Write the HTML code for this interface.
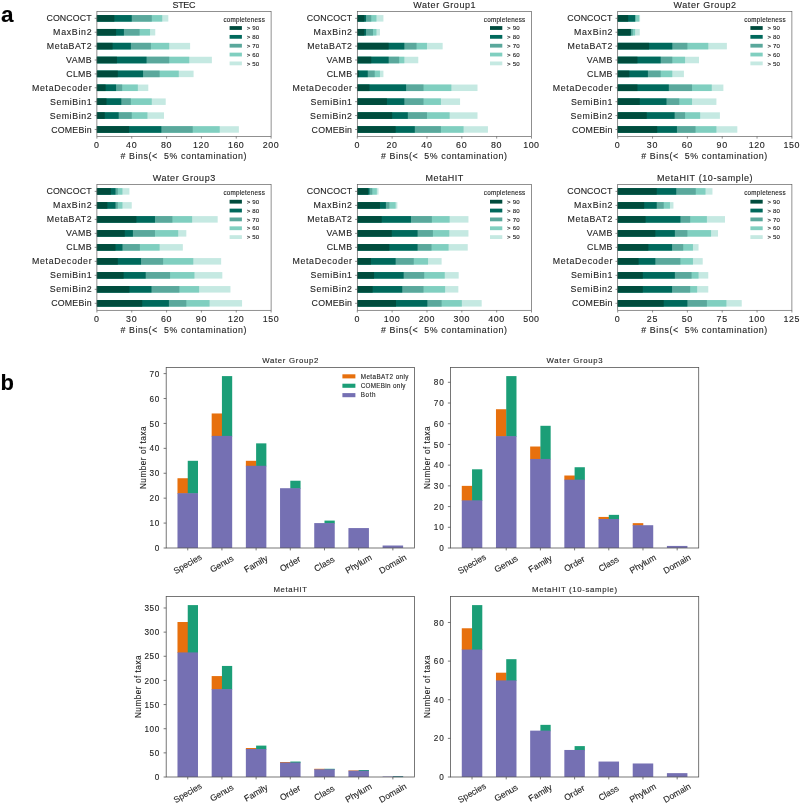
<!DOCTYPE html>
<html><head><meta charset="utf-8"><title>Figure</title>
<style>
html,body{margin:0;padding:0;background:#fff;}
body{width:800px;height:806px;overflow:hidden;}
svg{display:block;}
text{stroke:#1f1f1f;stroke-width:0.12px;}
</style></head><body>
<svg width="800" height="806" viewBox="0 0 800 806">
<rect x="0" y="0" width="800" height="806" fill="#fff"/>
<g font-family='"Liberation Sans", Arial, Helvetica, sans-serif' fill="#1f1f1f">
<text x="1" y="22.3" font-size="22.5" font-weight="bold" fill="#000">a</text>
<rect x="96.9" y="15.09" width="71.42" height="6.5" fill="#c5e9e2"/>
<rect x="96.9" y="15.09" width="65.33" height="6.5" fill="#80cfc0"/>
<rect x="96.9" y="15.09" width="54.87" height="6.5" fill="#5aa89c"/>
<rect x="96.9" y="15.09" width="34.84" height="6.5" fill="#00695c"/>
<rect x="96.9" y="15.09" width="17.42" height="6.5" fill="#004c3d"/>
<line x1="94.7" y1="18.34" x2="96.9" y2="18.34" stroke="#555555" stroke-width="0.65"/>
<text x="91.6" y="21.44" font-size="8.8" text-anchor="end" textLength="45.2" lengthAdjust="spacing">CONCOCT</text>
<rect x="96.9" y="28.98" width="58.36" height="6.5" fill="#c5e9e2"/>
<rect x="96.9" y="28.98" width="53.13" height="6.5" fill="#80cfc0"/>
<rect x="96.9" y="28.98" width="42.68" height="6.5" fill="#5aa89c"/>
<rect x="96.9" y="28.98" width="27" height="6.5" fill="#00695c"/>
<rect x="96.9" y="28.98" width="19.16" height="6.5" fill="#004c3d"/>
<line x1="94.7" y1="32.23" x2="96.9" y2="32.23" stroke="#555555" stroke-width="0.65"/>
<text x="91.6" y="35.33" font-size="8.8" text-anchor="end" textLength="38.5" lengthAdjust="spacing">MaxBin2</text>
<rect x="96.9" y="42.87" width="93.2" height="6.5" fill="#c5e9e2"/>
<rect x="96.9" y="42.87" width="72.29" height="6.5" fill="#80cfc0"/>
<rect x="96.9" y="42.87" width="54" height="6.5" fill="#5aa89c"/>
<rect x="96.9" y="42.87" width="33.97" height="6.5" fill="#00695c"/>
<rect x="96.9" y="42.87" width="15.68" height="6.5" fill="#004c3d"/>
<line x1="94.7" y1="46.12" x2="96.9" y2="46.12" stroke="#555555" stroke-width="0.65"/>
<text x="91.6" y="49.22" font-size="8.8" text-anchor="end" textLength="44.8" lengthAdjust="spacing">MetaBAT2</text>
<rect x="96.9" y="56.76" width="114.97" height="6.5" fill="#c5e9e2"/>
<rect x="96.9" y="56.76" width="92.33" height="6.5" fill="#80cfc0"/>
<rect x="96.9" y="56.76" width="72.29" height="6.5" fill="#5aa89c"/>
<rect x="96.9" y="56.76" width="49.65" height="6.5" fill="#00695c"/>
<rect x="96.9" y="56.76" width="20.03" height="6.5" fill="#004c3d"/>
<line x1="94.7" y1="60.01" x2="96.9" y2="60.01" stroke="#555555" stroke-width="0.65"/>
<text x="91.6" y="63.11" font-size="8.8" text-anchor="end" textLength="25.6" lengthAdjust="spacing">VAMB</text>
<rect x="96.9" y="70.65" width="96.68" height="6.5" fill="#c5e9e2"/>
<rect x="96.9" y="70.65" width="81.87" height="6.5" fill="#80cfc0"/>
<rect x="96.9" y="70.65" width="62.71" height="6.5" fill="#5aa89c"/>
<rect x="96.9" y="70.65" width="46.16" height="6.5" fill="#00695c"/>
<rect x="96.9" y="70.65" width="20.9" height="6.5" fill="#004c3d"/>
<line x1="94.7" y1="73.9" x2="96.9" y2="73.9" stroke="#555555" stroke-width="0.65"/>
<text x="91.6" y="77" font-size="8.8" text-anchor="end" textLength="25.3" lengthAdjust="spacing">CLMB</text>
<rect x="96.9" y="84.54" width="51.39" height="6.5" fill="#c5e9e2"/>
<rect x="96.9" y="84.54" width="40.94" height="6.5" fill="#80cfc0"/>
<rect x="96.9" y="84.54" width="25.26" height="6.5" fill="#5aa89c"/>
<rect x="96.9" y="84.54" width="19.16" height="6.5" fill="#00695c"/>
<rect x="96.9" y="84.54" width="8.71" height="6.5" fill="#004c3d"/>
<line x1="94.7" y1="87.79" x2="96.9" y2="87.79" stroke="#555555" stroke-width="0.65"/>
<text x="91.6" y="90.89" font-size="8.8" text-anchor="end" textLength="59.6" lengthAdjust="spacing">MetaDecoder</text>
<rect x="96.9" y="98.43" width="68.81" height="6.5" fill="#c5e9e2"/>
<rect x="96.9" y="98.43" width="54.87" height="6.5" fill="#80cfc0"/>
<rect x="96.9" y="98.43" width="33.97" height="6.5" fill="#5aa89c"/>
<rect x="96.9" y="98.43" width="24.39" height="6.5" fill="#00695c"/>
<rect x="96.9" y="98.43" width="9.58" height="6.5" fill="#004c3d"/>
<line x1="94.7" y1="101.68" x2="96.9" y2="101.68" stroke="#555555" stroke-width="0.65"/>
<text x="91.6" y="104.78" font-size="8.8" text-anchor="end" textLength="41.5" lengthAdjust="spacing">SemiBin1</text>
<rect x="96.9" y="112.32" width="67.07" height="6.5" fill="#c5e9e2"/>
<rect x="96.9" y="112.32" width="50.52" height="6.5" fill="#80cfc0"/>
<rect x="96.9" y="112.32" width="34.84" height="6.5" fill="#5aa89c"/>
<rect x="96.9" y="112.32" width="21.77" height="6.5" fill="#00695c"/>
<rect x="96.9" y="112.32" width="7.84" height="6.5" fill="#004c3d"/>
<line x1="94.7" y1="115.57" x2="96.9" y2="115.57" stroke="#555555" stroke-width="0.65"/>
<text x="91.6" y="118.67" font-size="8.8" text-anchor="end" textLength="41.9" lengthAdjust="spacing">SemiBin2</text>
<rect x="96.9" y="126.21" width="141.97" height="6.5" fill="#c5e9e2"/>
<rect x="96.9" y="126.21" width="122.81" height="6.5" fill="#80cfc0"/>
<rect x="96.9" y="126.21" width="95.81" height="6.5" fill="#5aa89c"/>
<rect x="96.9" y="126.21" width="64.45" height="6.5" fill="#00695c"/>
<rect x="96.9" y="126.21" width="32.23" height="6.5" fill="#004c3d"/>
<line x1="94.7" y1="129.46" x2="96.9" y2="129.46" stroke="#555555" stroke-width="0.65"/>
<text x="91.6" y="132.56" font-size="8.8" text-anchor="end" textLength="40.4" lengthAdjust="spacing">COMEBin</text>
<rect x="96.9" y="11.4" width="174.2" height="125" fill="none" stroke="#555555" stroke-width="0.65"/>
<line x1="96.9" y1="136.4" x2="96.9" y2="138.6" stroke="#555555" stroke-width="0.65"/>
<text x="96.5" y="147.6" font-size="8.9" text-anchor="middle" textLength="5.3" lengthAdjust="spacing">0</text>
<line x1="131.74" y1="136.4" x2="131.74" y2="138.6" stroke="#555555" stroke-width="0.65"/>
<text x="131.34" y="147.6" font-size="8.9" text-anchor="middle" textLength="10.6" lengthAdjust="spacing">40</text>
<line x1="166.58" y1="136.4" x2="166.58" y2="138.6" stroke="#555555" stroke-width="0.65"/>
<text x="166.18" y="147.6" font-size="8.9" text-anchor="middle" textLength="10.6" lengthAdjust="spacing">80</text>
<line x1="201.42" y1="136.4" x2="201.42" y2="138.6" stroke="#555555" stroke-width="0.65"/>
<text x="201.02" y="147.6" font-size="8.9" text-anchor="middle" textLength="15.9" lengthAdjust="spacing">120</text>
<line x1="236.26" y1="136.4" x2="236.26" y2="138.6" stroke="#555555" stroke-width="0.65"/>
<text x="235.86" y="147.6" font-size="8.9" text-anchor="middle" textLength="15.9" lengthAdjust="spacing">160</text>
<line x1="271.1" y1="136.4" x2="271.1" y2="138.6" stroke="#555555" stroke-width="0.65"/>
<text x="270.7" y="147.6" font-size="8.9" text-anchor="middle" textLength="15.9" lengthAdjust="spacing">200</text>
<text x="183.5" y="159.3" font-size="8.8" text-anchor="middle" textLength="126" lengthAdjust="spacing" xml:space="preserve"># Bins(&lt;  5% contamination)</text>
<text x="184" y="8" font-size="9" text-anchor="middle" textLength="23.2" lengthAdjust="spacing">STEC</text>
<text x="264.8" y="21.5" font-size="6.3" text-anchor="end" textLength="41.4" lengthAdjust="spacing">completeness</text>
<rect x="229.6" y="26.1" width="12.3" height="3.8" fill="#004c3d"/>
<text x="246.7" y="30.1" font-size="6.1" textLength="12.5" lengthAdjust="spacing" xml:space="preserve">> 90</text>
<rect x="229.6" y="34.95" width="12.3" height="3.8" fill="#00695c"/>
<text x="246.7" y="38.95" font-size="6.1" textLength="12.5" lengthAdjust="spacing" xml:space="preserve">> 80</text>
<rect x="229.6" y="43.8" width="12.3" height="3.8" fill="#5aa89c"/>
<text x="246.7" y="47.8" font-size="6.1" textLength="12.5" lengthAdjust="spacing" xml:space="preserve">> 70</text>
<rect x="229.6" y="52.65" width="12.3" height="3.8" fill="#80cfc0"/>
<text x="246.7" y="56.65" font-size="6.1" textLength="12.5" lengthAdjust="spacing" xml:space="preserve">> 60</text>
<rect x="229.6" y="61.5" width="12.3" height="3.8" fill="#c5e9e2"/>
<text x="246.7" y="65.5" font-size="6.1" textLength="12.5" lengthAdjust="spacing" xml:space="preserve">> 50</text>
<rect x="357.3" y="15.09" width="26.13" height="6.5" fill="#c5e9e2"/>
<rect x="357.3" y="15.09" width="19.16" height="6.5" fill="#80cfc0"/>
<rect x="357.3" y="15.09" width="13.94" height="6.5" fill="#5aa89c"/>
<rect x="357.3" y="15.09" width="8.71" height="6.5" fill="#00695c"/>
<rect x="357.3" y="15.09" width="6.97" height="6.5" fill="#004c3d"/>
<line x1="355.1" y1="18.34" x2="357.3" y2="18.34" stroke="#555555" stroke-width="0.65"/>
<text x="352" y="21.44" font-size="8.8" text-anchor="end" textLength="45.2" lengthAdjust="spacing">CONCOCT</text>
<rect x="357.3" y="28.98" width="22.65" height="6.5" fill="#c5e9e2"/>
<rect x="357.3" y="28.98" width="19.16" height="6.5" fill="#80cfc0"/>
<rect x="357.3" y="28.98" width="15.68" height="6.5" fill="#5aa89c"/>
<rect x="357.3" y="28.98" width="8.71" height="6.5" fill="#00695c"/>
<rect x="357.3" y="28.98" width="6.97" height="6.5" fill="#004c3d"/>
<line x1="355.1" y1="32.23" x2="357.3" y2="32.23" stroke="#555555" stroke-width="0.65"/>
<text x="352" y="35.33" font-size="8.8" text-anchor="end" textLength="38.5" lengthAdjust="spacing">MaxBin2</text>
<rect x="357.3" y="42.87" width="85.36" height="6.5" fill="#c5e9e2"/>
<rect x="357.3" y="42.87" width="69.68" height="6.5" fill="#80cfc0"/>
<rect x="357.3" y="42.87" width="59.23" height="6.5" fill="#5aa89c"/>
<rect x="357.3" y="42.87" width="47.03" height="6.5" fill="#00695c"/>
<rect x="357.3" y="42.87" width="31.36" height="6.5" fill="#004c3d"/>
<line x1="355.1" y1="46.12" x2="357.3" y2="46.12" stroke="#555555" stroke-width="0.65"/>
<text x="352" y="49.22" font-size="8.8" text-anchor="end" textLength="44.8" lengthAdjust="spacing">MetaBAT2</text>
<rect x="357.3" y="56.76" width="60.97" height="6.5" fill="#c5e9e2"/>
<rect x="357.3" y="56.76" width="47.03" height="6.5" fill="#80cfc0"/>
<rect x="357.3" y="56.76" width="41.81" height="6.5" fill="#5aa89c"/>
<rect x="357.3" y="56.76" width="31.36" height="6.5" fill="#00695c"/>
<rect x="357.3" y="56.76" width="13.94" height="6.5" fill="#004c3d"/>
<line x1="355.1" y1="60.01" x2="357.3" y2="60.01" stroke="#555555" stroke-width="0.65"/>
<text x="352" y="63.11" font-size="8.8" text-anchor="end" textLength="25.6" lengthAdjust="spacing">VAMB</text>
<rect x="357.3" y="70.65" width="26.13" height="6.5" fill="#c5e9e2"/>
<rect x="357.3" y="70.65" width="22.65" height="6.5" fill="#80cfc0"/>
<rect x="357.3" y="70.65" width="17.42" height="6.5" fill="#5aa89c"/>
<rect x="357.3" y="70.65" width="10.45" height="6.5" fill="#00695c"/>
<rect x="357.3" y="70.65" width="1.74" height="6.5" fill="#004c3d"/>
<line x1="355.1" y1="73.9" x2="357.3" y2="73.9" stroke="#555555" stroke-width="0.65"/>
<text x="352" y="77" font-size="8.8" text-anchor="end" textLength="25.3" lengthAdjust="spacing">CLMB</text>
<rect x="357.3" y="84.54" width="120.2" height="6.5" fill="#c5e9e2"/>
<rect x="357.3" y="84.54" width="94.07" height="6.5" fill="#80cfc0"/>
<rect x="357.3" y="84.54" width="66.2" height="6.5" fill="#5aa89c"/>
<rect x="357.3" y="84.54" width="48.78" height="6.5" fill="#00695c"/>
<rect x="357.3" y="84.54" width="12.19" height="6.5" fill="#004c3d"/>
<line x1="355.1" y1="87.79" x2="357.3" y2="87.79" stroke="#555555" stroke-width="0.65"/>
<text x="352" y="90.89" font-size="8.8" text-anchor="end" textLength="59.6" lengthAdjust="spacing">MetaDecoder</text>
<rect x="357.3" y="98.43" width="102.78" height="6.5" fill="#c5e9e2"/>
<rect x="357.3" y="98.43" width="83.62" height="6.5" fill="#80cfc0"/>
<rect x="357.3" y="98.43" width="66.2" height="6.5" fill="#5aa89c"/>
<rect x="357.3" y="98.43" width="47.03" height="6.5" fill="#00695c"/>
<rect x="357.3" y="98.43" width="29.61" height="6.5" fill="#004c3d"/>
<line x1="355.1" y1="101.68" x2="357.3" y2="101.68" stroke="#555555" stroke-width="0.65"/>
<text x="352" y="104.78" font-size="8.8" text-anchor="end" textLength="41.5" lengthAdjust="spacing">SemiBin1</text>
<rect x="357.3" y="112.32" width="120.2" height="6.5" fill="#c5e9e2"/>
<rect x="357.3" y="112.32" width="92.33" height="6.5" fill="#80cfc0"/>
<rect x="357.3" y="112.32" width="69.68" height="6.5" fill="#5aa89c"/>
<rect x="357.3" y="112.32" width="50.52" height="6.5" fill="#00695c"/>
<rect x="357.3" y="112.32" width="34.84" height="6.5" fill="#004c3d"/>
<line x1="355.1" y1="115.57" x2="357.3" y2="115.57" stroke="#555555" stroke-width="0.65"/>
<text x="352" y="118.67" font-size="8.8" text-anchor="end" textLength="41.9" lengthAdjust="spacing">SemiBin2</text>
<rect x="357.3" y="126.21" width="130.65" height="6.5" fill="#c5e9e2"/>
<rect x="357.3" y="126.21" width="106.26" height="6.5" fill="#80cfc0"/>
<rect x="357.3" y="126.21" width="83.62" height="6.5" fill="#5aa89c"/>
<rect x="357.3" y="126.21" width="57.49" height="6.5" fill="#00695c"/>
<rect x="357.3" y="126.21" width="38.32" height="6.5" fill="#004c3d"/>
<line x1="355.1" y1="129.46" x2="357.3" y2="129.46" stroke="#555555" stroke-width="0.65"/>
<text x="352" y="132.56" font-size="8.8" text-anchor="end" textLength="40.4" lengthAdjust="spacing">COMEBin</text>
<rect x="357.3" y="11.4" width="174.2" height="125" fill="none" stroke="#555555" stroke-width="0.65"/>
<line x1="357.3" y1="136.4" x2="357.3" y2="138.6" stroke="#555555" stroke-width="0.65"/>
<text x="356.9" y="147.6" font-size="8.9" text-anchor="middle" textLength="5.3" lengthAdjust="spacing">0</text>
<line x1="392.14" y1="136.4" x2="392.14" y2="138.6" stroke="#555555" stroke-width="0.65"/>
<text x="391.74" y="147.6" font-size="8.9" text-anchor="middle" textLength="10.6" lengthAdjust="spacing">20</text>
<line x1="426.98" y1="136.4" x2="426.98" y2="138.6" stroke="#555555" stroke-width="0.65"/>
<text x="426.58" y="147.6" font-size="8.9" text-anchor="middle" textLength="10.6" lengthAdjust="spacing">40</text>
<line x1="461.82" y1="136.4" x2="461.82" y2="138.6" stroke="#555555" stroke-width="0.65"/>
<text x="461.42" y="147.6" font-size="8.9" text-anchor="middle" textLength="10.6" lengthAdjust="spacing">60</text>
<line x1="496.66" y1="136.4" x2="496.66" y2="138.6" stroke="#555555" stroke-width="0.65"/>
<text x="496.26" y="147.6" font-size="8.9" text-anchor="middle" textLength="10.6" lengthAdjust="spacing">80</text>
<line x1="531.5" y1="136.4" x2="531.5" y2="138.6" stroke="#555555" stroke-width="0.65"/>
<text x="531.1" y="147.6" font-size="8.9" text-anchor="middle" textLength="15.9" lengthAdjust="spacing">100</text>
<text x="443.9" y="159.3" font-size="8.8" text-anchor="middle" textLength="126" lengthAdjust="spacing" xml:space="preserve"># Bins(&lt;  5% contamination)</text>
<text x="444.4" y="8" font-size="9" text-anchor="middle" textLength="62.3" lengthAdjust="spacing">Water Group1</text>
<text x="525.2" y="21.5" font-size="6.3" text-anchor="end" textLength="41.4" lengthAdjust="spacing">completeness</text>
<rect x="490" y="26.1" width="12.3" height="3.8" fill="#004c3d"/>
<text x="507.1" y="30.1" font-size="6.1" textLength="12.5" lengthAdjust="spacing" xml:space="preserve">> 90</text>
<rect x="490" y="34.95" width="12.3" height="3.8" fill="#00695c"/>
<text x="507.1" y="38.95" font-size="6.1" textLength="12.5" lengthAdjust="spacing" xml:space="preserve">> 80</text>
<rect x="490" y="43.8" width="12.3" height="3.8" fill="#5aa89c"/>
<text x="507.1" y="47.8" font-size="6.1" textLength="12.5" lengthAdjust="spacing" xml:space="preserve">> 70</text>
<rect x="490" y="52.65" width="12.3" height="3.8" fill="#80cfc0"/>
<text x="507.1" y="56.65" font-size="6.1" textLength="12.5" lengthAdjust="spacing" xml:space="preserve">> 60</text>
<rect x="490" y="61.5" width="12.3" height="3.8" fill="#c5e9e2"/>
<text x="507.1" y="65.5" font-size="6.1" textLength="12.5" lengthAdjust="spacing" xml:space="preserve">> 50</text>
<rect x="617.7" y="15.09" width="22.41" height="6.5" fill="#c5e9e2"/>
<rect x="617.7" y="15.09" width="21.48" height="6.5" fill="#80cfc0"/>
<rect x="617.7" y="15.09" width="17.77" height="6.5" fill="#5aa89c"/>
<rect x="617.7" y="15.09" width="17.42" height="6.5" fill="#00695c"/>
<rect x="617.7" y="15.09" width="10.45" height="6.5" fill="#004c3d"/>
<line x1="615.5" y1="18.34" x2="617.7" y2="18.34" stroke="#555555" stroke-width="0.65"/>
<text x="612.4" y="21.44" font-size="8.8" text-anchor="end" textLength="45.2" lengthAdjust="spacing">CONCOCT</text>
<rect x="617.7" y="28.98" width="22.07" height="6.5" fill="#c5e9e2"/>
<rect x="617.7" y="28.98" width="17.42" height="6.5" fill="#80cfc0"/>
<rect x="617.7" y="28.98" width="15.1" height="6.5" fill="#5aa89c"/>
<rect x="617.7" y="28.98" width="13.36" height="6.5" fill="#00695c"/>
<rect x="617.7" y="28.98" width="12.77" height="6.5" fill="#004c3d"/>
<line x1="615.5" y1="32.23" x2="617.7" y2="32.23" stroke="#555555" stroke-width="0.65"/>
<text x="612.4" y="35.33" font-size="8.8" text-anchor="end" textLength="38.5" lengthAdjust="spacing">MaxBin2</text>
<rect x="617.7" y="42.87" width="109.17" height="6.5" fill="#c5e9e2"/>
<rect x="617.7" y="42.87" width="90.58" height="6.5" fill="#80cfc0"/>
<rect x="617.7" y="42.87" width="69.68" height="6.5" fill="#5aa89c"/>
<rect x="617.7" y="42.87" width="54.58" height="6.5" fill="#00695c"/>
<rect x="617.7" y="42.87" width="31.36" height="6.5" fill="#004c3d"/>
<line x1="615.5" y1="46.12" x2="617.7" y2="46.12" stroke="#555555" stroke-width="0.65"/>
<text x="612.4" y="49.22" font-size="8.8" text-anchor="end" textLength="44.8" lengthAdjust="spacing">MetaBAT2</text>
<rect x="617.7" y="56.76" width="81.29" height="6.5" fill="#c5e9e2"/>
<rect x="617.7" y="56.76" width="67.36" height="6.5" fill="#80cfc0"/>
<rect x="617.7" y="56.76" width="54.58" height="6.5" fill="#5aa89c"/>
<rect x="617.7" y="56.76" width="42.97" height="6.5" fill="#00695c"/>
<rect x="617.7" y="56.76" width="19.74" height="6.5" fill="#004c3d"/>
<line x1="615.5" y1="60.01" x2="617.7" y2="60.01" stroke="#555555" stroke-width="0.65"/>
<text x="612.4" y="63.11" font-size="8.8" text-anchor="end" textLength="25.6" lengthAdjust="spacing">VAMB</text>
<rect x="617.7" y="70.65" width="66.2" height="6.5" fill="#c5e9e2"/>
<rect x="617.7" y="70.65" width="54.58" height="6.5" fill="#80cfc0"/>
<rect x="617.7" y="70.65" width="42.97" height="6.5" fill="#5aa89c"/>
<rect x="617.7" y="70.65" width="30.19" height="6.5" fill="#00695c"/>
<rect x="617.7" y="70.65" width="11.61" height="6.5" fill="#004c3d"/>
<line x1="615.5" y1="73.9" x2="617.7" y2="73.9" stroke="#555555" stroke-width="0.65"/>
<text x="612.4" y="77" font-size="8.8" text-anchor="end" textLength="25.3" lengthAdjust="spacing">CLMB</text>
<rect x="617.7" y="84.54" width="105.68" height="6.5" fill="#c5e9e2"/>
<rect x="617.7" y="84.54" width="94.07" height="6.5" fill="#80cfc0"/>
<rect x="617.7" y="84.54" width="74.33" height="6.5" fill="#5aa89c"/>
<rect x="617.7" y="84.54" width="51.1" height="6.5" fill="#00695c"/>
<rect x="617.7" y="84.54" width="19.74" height="6.5" fill="#004c3d"/>
<line x1="615.5" y1="87.79" x2="617.7" y2="87.79" stroke="#555555" stroke-width="0.65"/>
<text x="612.4" y="90.89" font-size="8.8" text-anchor="end" textLength="59.6" lengthAdjust="spacing">MetaDecoder</text>
<rect x="617.7" y="98.43" width="98.71" height="6.5" fill="#c5e9e2"/>
<rect x="617.7" y="98.43" width="74.33" height="6.5" fill="#80cfc0"/>
<rect x="617.7" y="98.43" width="61.55" height="6.5" fill="#5aa89c"/>
<rect x="617.7" y="98.43" width="48.78" height="6.5" fill="#00695c"/>
<rect x="617.7" y="98.43" width="22.07" height="6.5" fill="#004c3d"/>
<line x1="615.5" y1="101.68" x2="617.7" y2="101.68" stroke="#555555" stroke-width="0.65"/>
<text x="612.4" y="104.78" font-size="8.8" text-anchor="end" textLength="41.5" lengthAdjust="spacing">SemiBin1</text>
<rect x="617.7" y="112.32" width="102.2" height="6.5" fill="#c5e9e2"/>
<rect x="617.7" y="112.32" width="82.45" height="6.5" fill="#80cfc0"/>
<rect x="617.7" y="112.32" width="67.36" height="6.5" fill="#5aa89c"/>
<rect x="617.7" y="112.32" width="56.91" height="6.5" fill="#00695c"/>
<rect x="617.7" y="112.32" width="29.03" height="6.5" fill="#004c3d"/>
<line x1="615.5" y1="115.57" x2="617.7" y2="115.57" stroke="#555555" stroke-width="0.65"/>
<text x="612.4" y="118.67" font-size="8.8" text-anchor="end" textLength="41.9" lengthAdjust="spacing">SemiBin2</text>
<rect x="617.7" y="126.21" width="119.62" height="6.5" fill="#c5e9e2"/>
<rect x="617.7" y="126.21" width="98.71" height="6.5" fill="#80cfc0"/>
<rect x="617.7" y="126.21" width="77.81" height="6.5" fill="#5aa89c"/>
<rect x="617.7" y="126.21" width="59.23" height="6.5" fill="#00695c"/>
<rect x="617.7" y="126.21" width="39.49" height="6.5" fill="#004c3d"/>
<line x1="615.5" y1="129.46" x2="617.7" y2="129.46" stroke="#555555" stroke-width="0.65"/>
<text x="612.4" y="132.56" font-size="8.8" text-anchor="end" textLength="40.4" lengthAdjust="spacing">COMEBin</text>
<rect x="617.7" y="11.4" width="174.2" height="125" fill="none" stroke="#555555" stroke-width="0.65"/>
<line x1="617.7" y1="136.4" x2="617.7" y2="138.6" stroke="#555555" stroke-width="0.65"/>
<text x="617.3" y="147.6" font-size="8.9" text-anchor="middle" textLength="5.3" lengthAdjust="spacing">0</text>
<line x1="652.54" y1="136.4" x2="652.54" y2="138.6" stroke="#555555" stroke-width="0.65"/>
<text x="652.14" y="147.6" font-size="8.9" text-anchor="middle" textLength="10.6" lengthAdjust="spacing">30</text>
<line x1="687.38" y1="136.4" x2="687.38" y2="138.6" stroke="#555555" stroke-width="0.65"/>
<text x="686.98" y="147.6" font-size="8.9" text-anchor="middle" textLength="10.6" lengthAdjust="spacing">60</text>
<line x1="722.22" y1="136.4" x2="722.22" y2="138.6" stroke="#555555" stroke-width="0.65"/>
<text x="721.82" y="147.6" font-size="8.9" text-anchor="middle" textLength="10.6" lengthAdjust="spacing">90</text>
<line x1="757.06" y1="136.4" x2="757.06" y2="138.6" stroke="#555555" stroke-width="0.65"/>
<text x="756.66" y="147.6" font-size="8.9" text-anchor="middle" textLength="15.9" lengthAdjust="spacing">120</text>
<line x1="791.9" y1="136.4" x2="791.9" y2="138.6" stroke="#555555" stroke-width="0.65"/>
<text x="791.5" y="147.6" font-size="8.9" text-anchor="middle" textLength="15.9" lengthAdjust="spacing">150</text>
<text x="704.3" y="159.3" font-size="8.8" text-anchor="middle" textLength="126" lengthAdjust="spacing" xml:space="preserve"># Bins(&lt;  5% contamination)</text>
<text x="704.8" y="8" font-size="9" text-anchor="middle" textLength="62.6" lengthAdjust="spacing">Water Group2</text>
<text x="785.6" y="21.5" font-size="6.3" text-anchor="end" textLength="41.4" lengthAdjust="spacing">completeness</text>
<rect x="750.4" y="26.1" width="12.3" height="3.8" fill="#004c3d"/>
<text x="767.5" y="30.1" font-size="6.1" textLength="12.5" lengthAdjust="spacing" xml:space="preserve">> 90</text>
<rect x="750.4" y="34.95" width="12.3" height="3.8" fill="#00695c"/>
<text x="767.5" y="38.95" font-size="6.1" textLength="12.5" lengthAdjust="spacing" xml:space="preserve">> 80</text>
<rect x="750.4" y="43.8" width="12.3" height="3.8" fill="#5aa89c"/>
<text x="767.5" y="47.8" font-size="6.1" textLength="12.5" lengthAdjust="spacing" xml:space="preserve">> 70</text>
<rect x="750.4" y="52.65" width="12.3" height="3.8" fill="#80cfc0"/>
<text x="767.5" y="56.65" font-size="6.1" textLength="12.5" lengthAdjust="spacing" xml:space="preserve">> 60</text>
<rect x="750.4" y="61.5" width="12.3" height="3.8" fill="#c5e9e2"/>
<text x="767.5" y="65.5" font-size="6.1" textLength="12.5" lengthAdjust="spacing" xml:space="preserve">> 50</text>
<rect x="96.9" y="188.14" width="32.52" height="6.5" fill="#c5e9e2"/>
<rect x="96.9" y="188.14" width="25.55" height="6.5" fill="#80cfc0"/>
<rect x="96.9" y="188.14" width="20.9" height="6.5" fill="#5aa89c"/>
<rect x="96.9" y="188.14" width="18.58" height="6.5" fill="#00695c"/>
<rect x="96.9" y="188.14" width="13.94" height="6.5" fill="#004c3d"/>
<line x1="94.7" y1="191.39" x2="96.9" y2="191.39" stroke="#555555" stroke-width="0.65"/>
<text x="91.6" y="194.49" font-size="8.8" text-anchor="end" textLength="45.2" lengthAdjust="spacing">CONCOCT</text>
<rect x="96.9" y="202.13" width="34.84" height="6.5" fill="#c5e9e2"/>
<rect x="96.9" y="202.13" width="25.55" height="6.5" fill="#80cfc0"/>
<rect x="96.9" y="202.13" width="20.9" height="6.5" fill="#5aa89c"/>
<rect x="96.9" y="202.13" width="18.58" height="6.5" fill="#00695c"/>
<rect x="96.9" y="202.13" width="10.45" height="6.5" fill="#004c3d"/>
<line x1="94.7" y1="205.38" x2="96.9" y2="205.38" stroke="#555555" stroke-width="0.65"/>
<text x="91.6" y="208.48" font-size="8.8" text-anchor="end" textLength="38.5" lengthAdjust="spacing">MaxBin2</text>
<rect x="96.9" y="216.12" width="120.78" height="6.5" fill="#c5e9e2"/>
<rect x="96.9" y="216.12" width="95.23" height="6.5" fill="#80cfc0"/>
<rect x="96.9" y="216.12" width="75.49" height="6.5" fill="#5aa89c"/>
<rect x="96.9" y="216.12" width="58.07" height="6.5" fill="#00695c"/>
<rect x="96.9" y="216.12" width="39.49" height="6.5" fill="#004c3d"/>
<line x1="94.7" y1="219.37" x2="96.9" y2="219.37" stroke="#555555" stroke-width="0.65"/>
<text x="91.6" y="222.47" font-size="8.8" text-anchor="end" textLength="44.8" lengthAdjust="spacing">MetaBAT2</text>
<rect x="96.9" y="230.11" width="89.42" height="6.5" fill="#c5e9e2"/>
<rect x="96.9" y="230.11" width="81.29" height="6.5" fill="#80cfc0"/>
<rect x="96.9" y="230.11" width="58.07" height="6.5" fill="#5aa89c"/>
<rect x="96.9" y="230.11" width="36" height="6.5" fill="#00695c"/>
<rect x="96.9" y="230.11" width="27.87" height="6.5" fill="#004c3d"/>
<line x1="94.7" y1="233.36" x2="96.9" y2="233.36" stroke="#555555" stroke-width="0.65"/>
<text x="91.6" y="236.46" font-size="8.8" text-anchor="end" textLength="25.6" lengthAdjust="spacing">VAMB</text>
<rect x="96.9" y="244.1" width="85.94" height="6.5" fill="#c5e9e2"/>
<rect x="96.9" y="244.1" width="62.71" height="6.5" fill="#80cfc0"/>
<rect x="96.9" y="244.1" width="42.97" height="6.5" fill="#5aa89c"/>
<rect x="96.9" y="244.1" width="25.55" height="6.5" fill="#00695c"/>
<rect x="96.9" y="244.1" width="18.58" height="6.5" fill="#004c3d"/>
<line x1="94.7" y1="247.35" x2="96.9" y2="247.35" stroke="#555555" stroke-width="0.65"/>
<text x="91.6" y="250.45" font-size="8.8" text-anchor="end" textLength="25.3" lengthAdjust="spacing">CLMB</text>
<rect x="96.9" y="258.09" width="124.26" height="6.5" fill="#c5e9e2"/>
<rect x="96.9" y="258.09" width="96.39" height="6.5" fill="#80cfc0"/>
<rect x="96.9" y="258.09" width="66.2" height="6.5" fill="#5aa89c"/>
<rect x="96.9" y="258.09" width="44.13" height="6.5" fill="#00695c"/>
<rect x="96.9" y="258.09" width="20.9" height="6.5" fill="#004c3d"/>
<line x1="94.7" y1="261.34" x2="96.9" y2="261.34" stroke="#555555" stroke-width="0.65"/>
<text x="91.6" y="264.44" font-size="8.8" text-anchor="end" textLength="59.6" lengthAdjust="spacing">MetaDecoder</text>
<rect x="96.9" y="272.08" width="125.42" height="6.5" fill="#c5e9e2"/>
<rect x="96.9" y="272.08" width="97.55" height="6.5" fill="#80cfc0"/>
<rect x="96.9" y="272.08" width="73.16" height="6.5" fill="#5aa89c"/>
<rect x="96.9" y="272.08" width="48.78" height="6.5" fill="#00695c"/>
<rect x="96.9" y="272.08" width="26.71" height="6.5" fill="#004c3d"/>
<line x1="94.7" y1="275.33" x2="96.9" y2="275.33" stroke="#555555" stroke-width="0.65"/>
<text x="91.6" y="278.43" font-size="8.8" text-anchor="end" textLength="41.5" lengthAdjust="spacing">SemiBin1</text>
<rect x="96.9" y="286.07" width="133.55" height="6.5" fill="#c5e9e2"/>
<rect x="96.9" y="286.07" width="102.2" height="6.5" fill="#80cfc0"/>
<rect x="96.9" y="286.07" width="82.45" height="6.5" fill="#5aa89c"/>
<rect x="96.9" y="286.07" width="54.58" height="6.5" fill="#00695c"/>
<rect x="96.9" y="286.07" width="32.52" height="6.5" fill="#004c3d"/>
<line x1="94.7" y1="289.32" x2="96.9" y2="289.32" stroke="#555555" stroke-width="0.65"/>
<text x="91.6" y="292.42" font-size="8.8" text-anchor="end" textLength="41.9" lengthAdjust="spacing">SemiBin2</text>
<rect x="96.9" y="300.06" width="145.17" height="6.5" fill="#c5e9e2"/>
<rect x="96.9" y="300.06" width="112.65" height="6.5" fill="#80cfc0"/>
<rect x="96.9" y="300.06" width="89.42" height="6.5" fill="#5aa89c"/>
<rect x="96.9" y="300.06" width="72" height="6.5" fill="#00695c"/>
<rect x="96.9" y="300.06" width="45.29" height="6.5" fill="#004c3d"/>
<line x1="94.7" y1="303.31" x2="96.9" y2="303.31" stroke="#555555" stroke-width="0.65"/>
<text x="91.6" y="306.41" font-size="8.8" text-anchor="end" textLength="40.4" lengthAdjust="spacing">COMEBin</text>
<rect x="96.9" y="184.4" width="174.2" height="125.9" fill="none" stroke="#555555" stroke-width="0.65"/>
<line x1="96.9" y1="310.3" x2="96.9" y2="312.5" stroke="#555555" stroke-width="0.65"/>
<text x="96.5" y="321.5" font-size="8.9" text-anchor="middle" textLength="5.3" lengthAdjust="spacing">0</text>
<line x1="131.74" y1="310.3" x2="131.74" y2="312.5" stroke="#555555" stroke-width="0.65"/>
<text x="131.34" y="321.5" font-size="8.9" text-anchor="middle" textLength="10.6" lengthAdjust="spacing">30</text>
<line x1="166.58" y1="310.3" x2="166.58" y2="312.5" stroke="#555555" stroke-width="0.65"/>
<text x="166.18" y="321.5" font-size="8.9" text-anchor="middle" textLength="10.6" lengthAdjust="spacing">60</text>
<line x1="201.42" y1="310.3" x2="201.42" y2="312.5" stroke="#555555" stroke-width="0.65"/>
<text x="201.02" y="321.5" font-size="8.9" text-anchor="middle" textLength="10.6" lengthAdjust="spacing">90</text>
<line x1="236.26" y1="310.3" x2="236.26" y2="312.5" stroke="#555555" stroke-width="0.65"/>
<text x="235.86" y="321.5" font-size="8.9" text-anchor="middle" textLength="15.9" lengthAdjust="spacing">120</text>
<line x1="271.1" y1="310.3" x2="271.1" y2="312.5" stroke="#555555" stroke-width="0.65"/>
<text x="270.7" y="321.5" font-size="8.9" text-anchor="middle" textLength="15.9" lengthAdjust="spacing">150</text>
<text x="183.5" y="333.2" font-size="8.8" text-anchor="middle" textLength="126" lengthAdjust="spacing" xml:space="preserve"># Bins(&lt;  5% contamination)</text>
<text x="184" y="181" font-size="9" text-anchor="middle" textLength="62.6" lengthAdjust="spacing">Water Group3</text>
<text x="264.8" y="195.2" font-size="6.3" text-anchor="end" textLength="41.4" lengthAdjust="spacing">completeness</text>
<rect x="229.6" y="199.8" width="12.3" height="3.8" fill="#004c3d"/>
<text x="246.7" y="203.8" font-size="6.1" textLength="12.5" lengthAdjust="spacing" xml:space="preserve">> 90</text>
<rect x="229.6" y="208.65" width="12.3" height="3.8" fill="#00695c"/>
<text x="246.7" y="212.65" font-size="6.1" textLength="12.5" lengthAdjust="spacing" xml:space="preserve">> 80</text>
<rect x="229.6" y="217.5" width="12.3" height="3.8" fill="#5aa89c"/>
<text x="246.7" y="221.5" font-size="6.1" textLength="12.5" lengthAdjust="spacing" xml:space="preserve">> 70</text>
<rect x="229.6" y="226.35" width="12.3" height="3.8" fill="#80cfc0"/>
<text x="246.7" y="230.35" font-size="6.1" textLength="12.5" lengthAdjust="spacing" xml:space="preserve">> 60</text>
<rect x="229.6" y="235.2" width="12.3" height="3.8" fill="#c5e9e2"/>
<text x="246.7" y="239.2" font-size="6.1" textLength="12.5" lengthAdjust="spacing" xml:space="preserve">> 50</text>
<rect x="357.3" y="188.14" width="21.25" height="6.5" fill="#c5e9e2"/>
<rect x="357.3" y="188.14" width="19.51" height="6.5" fill="#80cfc0"/>
<rect x="357.3" y="188.14" width="14.98" height="6.5" fill="#5aa89c"/>
<rect x="357.3" y="188.14" width="12.19" height="6.5" fill="#00695c"/>
<rect x="357.3" y="188.14" width="10.8" height="6.5" fill="#004c3d"/>
<line x1="355.1" y1="191.39" x2="357.3" y2="191.39" stroke="#555555" stroke-width="0.65"/>
<text x="352" y="194.49" font-size="8.8" text-anchor="end" textLength="45.2" lengthAdjust="spacing">CONCOCT</text>
<rect x="357.3" y="202.13" width="40.07" height="6.5" fill="#c5e9e2"/>
<rect x="357.3" y="202.13" width="38.32" height="6.5" fill="#80cfc0"/>
<rect x="357.3" y="202.13" width="32.05" height="6.5" fill="#5aa89c"/>
<rect x="357.3" y="202.13" width="28.57" height="6.5" fill="#00695c"/>
<rect x="357.3" y="202.13" width="22.65" height="6.5" fill="#004c3d"/>
<line x1="355.1" y1="205.38" x2="357.3" y2="205.38" stroke="#555555" stroke-width="0.65"/>
<text x="352" y="208.48" font-size="8.8" text-anchor="end" textLength="38.5" lengthAdjust="spacing">MaxBin2</text>
<rect x="357.3" y="216.12" width="111.14" height="6.5" fill="#c5e9e2"/>
<rect x="357.3" y="216.12" width="92.33" height="6.5" fill="#80cfc0"/>
<rect x="357.3" y="216.12" width="74.56" height="6.5" fill="#5aa89c"/>
<rect x="357.3" y="216.12" width="53.65" height="6.5" fill="#00695c"/>
<rect x="357.3" y="216.12" width="24.39" height="6.5" fill="#004c3d"/>
<line x1="355.1" y1="219.37" x2="357.3" y2="219.37" stroke="#555555" stroke-width="0.65"/>
<text x="352" y="222.47" font-size="8.8" text-anchor="end" textLength="44.8" lengthAdjust="spacing">MetaBAT2</text>
<rect x="357.3" y="230.11" width="111.14" height="6.5" fill="#c5e9e2"/>
<rect x="357.3" y="230.11" width="91.98" height="6.5" fill="#80cfc0"/>
<rect x="357.3" y="230.11" width="75.6" height="6.5" fill="#5aa89c"/>
<rect x="357.3" y="230.11" width="60.27" height="6.5" fill="#00695c"/>
<rect x="357.3" y="230.11" width="34.49" height="6.5" fill="#004c3d"/>
<line x1="355.1" y1="233.36" x2="357.3" y2="233.36" stroke="#555555" stroke-width="0.65"/>
<text x="352" y="236.46" font-size="8.8" text-anchor="end" textLength="25.6" lengthAdjust="spacing">VAMB</text>
<rect x="357.3" y="244.1" width="110.44" height="6.5" fill="#c5e9e2"/>
<rect x="357.3" y="244.1" width="91.28" height="6.5" fill="#80cfc0"/>
<rect x="357.3" y="244.1" width="74.21" height="6.5" fill="#5aa89c"/>
<rect x="357.3" y="244.1" width="60.27" height="6.5" fill="#00695c"/>
<rect x="357.3" y="244.1" width="32.05" height="6.5" fill="#004c3d"/>
<line x1="355.1" y1="247.35" x2="357.3" y2="247.35" stroke="#555555" stroke-width="0.65"/>
<text x="352" y="250.45" font-size="8.8" text-anchor="end" textLength="25.3" lengthAdjust="spacing">CLMB</text>
<rect x="357.3" y="258.09" width="84.31" height="6.5" fill="#c5e9e2"/>
<rect x="357.3" y="258.09" width="70.73" height="6.5" fill="#80cfc0"/>
<rect x="357.3" y="258.09" width="56.44" height="6.5" fill="#5aa89c"/>
<rect x="357.3" y="258.09" width="38.32" height="6.5" fill="#00695c"/>
<rect x="357.3" y="258.09" width="13.59" height="6.5" fill="#004c3d"/>
<line x1="355.1" y1="261.34" x2="357.3" y2="261.34" stroke="#555555" stroke-width="0.65"/>
<text x="352" y="264.44" font-size="8.8" text-anchor="end" textLength="59.6" lengthAdjust="spacing">MetaDecoder</text>
<rect x="357.3" y="272.08" width="101.38" height="6.5" fill="#c5e9e2"/>
<rect x="357.3" y="272.08" width="87.45" height="6.5" fill="#80cfc0"/>
<rect x="357.3" y="272.08" width="66.89" height="6.5" fill="#5aa89c"/>
<rect x="357.3" y="272.08" width="46.34" height="6.5" fill="#00695c"/>
<rect x="357.3" y="272.08" width="16.72" height="6.5" fill="#004c3d"/>
<line x1="355.1" y1="275.33" x2="357.3" y2="275.33" stroke="#555555" stroke-width="0.65"/>
<text x="352" y="278.43" font-size="8.8" text-anchor="end" textLength="41.5" lengthAdjust="spacing">SemiBin1</text>
<rect x="357.3" y="286.07" width="101.04" height="6.5" fill="#c5e9e2"/>
<rect x="357.3" y="286.07" width="87.8" height="6.5" fill="#80cfc0"/>
<rect x="357.3" y="286.07" width="66.2" height="6.5" fill="#5aa89c"/>
<rect x="357.3" y="286.07" width="44.94" height="6.5" fill="#00695c"/>
<rect x="357.3" y="286.07" width="15.33" height="6.5" fill="#004c3d"/>
<line x1="355.1" y1="289.32" x2="357.3" y2="289.32" stroke="#555555" stroke-width="0.65"/>
<text x="352" y="292.42" font-size="8.8" text-anchor="end" textLength="41.9" lengthAdjust="spacing">SemiBin2</text>
<rect x="357.3" y="300.06" width="124.38" height="6.5" fill="#c5e9e2"/>
<rect x="357.3" y="300.06" width="104.52" height="6.5" fill="#80cfc0"/>
<rect x="357.3" y="300.06" width="84.31" height="6.5" fill="#5aa89c"/>
<rect x="357.3" y="300.06" width="70.03" height="6.5" fill="#00695c"/>
<rect x="357.3" y="300.06" width="38.67" height="6.5" fill="#004c3d"/>
<line x1="355.1" y1="303.31" x2="357.3" y2="303.31" stroke="#555555" stroke-width="0.65"/>
<text x="352" y="306.41" font-size="8.8" text-anchor="end" textLength="40.4" lengthAdjust="spacing">COMEBin</text>
<rect x="357.3" y="184.4" width="174.2" height="125.9" fill="none" stroke="#555555" stroke-width="0.65"/>
<line x1="357.3" y1="310.3" x2="357.3" y2="312.5" stroke="#555555" stroke-width="0.65"/>
<text x="356.9" y="321.5" font-size="8.9" text-anchor="middle" textLength="5.3" lengthAdjust="spacing">0</text>
<line x1="392.14" y1="310.3" x2="392.14" y2="312.5" stroke="#555555" stroke-width="0.65"/>
<text x="391.74" y="321.5" font-size="8.9" text-anchor="middle" textLength="15.9" lengthAdjust="spacing">100</text>
<line x1="426.98" y1="310.3" x2="426.98" y2="312.5" stroke="#555555" stroke-width="0.65"/>
<text x="426.58" y="321.5" font-size="8.9" text-anchor="middle" textLength="15.9" lengthAdjust="spacing">200</text>
<line x1="461.82" y1="310.3" x2="461.82" y2="312.5" stroke="#555555" stroke-width="0.65"/>
<text x="461.42" y="321.5" font-size="8.9" text-anchor="middle" textLength="15.9" lengthAdjust="spacing">300</text>
<line x1="496.66" y1="310.3" x2="496.66" y2="312.5" stroke="#555555" stroke-width="0.65"/>
<text x="496.26" y="321.5" font-size="8.9" text-anchor="middle" textLength="15.9" lengthAdjust="spacing">400</text>
<line x1="531.5" y1="310.3" x2="531.5" y2="312.5" stroke="#555555" stroke-width="0.65"/>
<text x="531.1" y="321.5" font-size="8.9" text-anchor="middle" textLength="15.9" lengthAdjust="spacing">500</text>
<text x="443.9" y="333.2" font-size="8.8" text-anchor="middle" textLength="126" lengthAdjust="spacing" xml:space="preserve"># Bins(&lt;  5% contamination)</text>
<text x="444.4" y="181" font-size="9" text-anchor="middle" textLength="37.6" lengthAdjust="spacing">MetaHIT</text>
<text x="525.2" y="195.2" font-size="6.3" text-anchor="end" textLength="41.4" lengthAdjust="spacing">completeness</text>
<rect x="490" y="199.8" width="12.3" height="3.8" fill="#004c3d"/>
<text x="507.1" y="203.8" font-size="6.1" textLength="12.5" lengthAdjust="spacing" xml:space="preserve">> 90</text>
<rect x="490" y="208.65" width="12.3" height="3.8" fill="#00695c"/>
<text x="507.1" y="212.65" font-size="6.1" textLength="12.5" lengthAdjust="spacing" xml:space="preserve">> 80</text>
<rect x="490" y="217.5" width="12.3" height="3.8" fill="#5aa89c"/>
<text x="507.1" y="221.5" font-size="6.1" textLength="12.5" lengthAdjust="spacing" xml:space="preserve">> 70</text>
<rect x="490" y="226.35" width="12.3" height="3.8" fill="#80cfc0"/>
<text x="507.1" y="230.35" font-size="6.1" textLength="12.5" lengthAdjust="spacing" xml:space="preserve">> 60</text>
<rect x="490" y="235.2" width="12.3" height="3.8" fill="#c5e9e2"/>
<text x="507.1" y="239.2" font-size="6.1" textLength="12.5" lengthAdjust="spacing" xml:space="preserve">> 50</text>
<rect x="617.7" y="188.14" width="94.76" height="6.5" fill="#c5e9e2"/>
<rect x="617.7" y="188.14" width="87.8" height="6.5" fill="#80cfc0"/>
<rect x="617.7" y="188.14" width="78.04" height="6.5" fill="#5aa89c"/>
<rect x="617.7" y="188.14" width="58.53" height="6.5" fill="#00695c"/>
<rect x="617.7" y="188.14" width="39.02" height="6.5" fill="#004c3d"/>
<line x1="615.5" y1="191.39" x2="617.7" y2="191.39" stroke="#555555" stroke-width="0.65"/>
<text x="612.4" y="194.49" font-size="8.8" text-anchor="end" textLength="45.2" lengthAdjust="spacing">CONCOCT</text>
<rect x="617.7" y="202.13" width="55.74" height="6.5" fill="#c5e9e2"/>
<rect x="617.7" y="202.13" width="52.26" height="6.5" fill="#80cfc0"/>
<rect x="617.7" y="202.13" width="45.99" height="6.5" fill="#5aa89c"/>
<rect x="617.7" y="202.13" width="39.02" height="6.5" fill="#00695c"/>
<rect x="617.7" y="202.13" width="26.48" height="6.5" fill="#004c3d"/>
<line x1="615.5" y1="205.38" x2="617.7" y2="205.38" stroke="#555555" stroke-width="0.65"/>
<text x="612.4" y="208.48" font-size="8.8" text-anchor="end" textLength="38.5" lengthAdjust="spacing">MaxBin2</text>
<rect x="617.7" y="216.12" width="107.31" height="6.5" fill="#c5e9e2"/>
<rect x="617.7" y="216.12" width="89.19" height="6.5" fill="#80cfc0"/>
<rect x="617.7" y="216.12" width="72.47" height="6.5" fill="#5aa89c"/>
<rect x="617.7" y="216.12" width="62.71" height="6.5" fill="#00695c"/>
<rect x="617.7" y="216.12" width="27.87" height="6.5" fill="#004c3d"/>
<line x1="615.5" y1="219.37" x2="617.7" y2="219.37" stroke="#555555" stroke-width="0.65"/>
<text x="612.4" y="222.47" font-size="8.8" text-anchor="end" textLength="44.8" lengthAdjust="spacing">MetaBAT2</text>
<rect x="617.7" y="230.11" width="100.34" height="6.5" fill="#c5e9e2"/>
<rect x="617.7" y="230.11" width="93.37" height="6.5" fill="#80cfc0"/>
<rect x="617.7" y="230.11" width="69.68" height="6.5" fill="#5aa89c"/>
<rect x="617.7" y="230.11" width="57.14" height="6.5" fill="#00695c"/>
<rect x="617.7" y="230.11" width="37.63" height="6.5" fill="#004c3d"/>
<line x1="615.5" y1="233.36" x2="617.7" y2="233.36" stroke="#555555" stroke-width="0.65"/>
<text x="612.4" y="236.46" font-size="8.8" text-anchor="end" textLength="25.6" lengthAdjust="spacing">VAMB</text>
<rect x="617.7" y="244.1" width="80.83" height="6.5" fill="#c5e9e2"/>
<rect x="617.7" y="244.1" width="75.25" height="6.5" fill="#80cfc0"/>
<rect x="617.7" y="244.1" width="65.5" height="6.5" fill="#5aa89c"/>
<rect x="617.7" y="244.1" width="54.35" height="6.5" fill="#00695c"/>
<rect x="617.7" y="244.1" width="30.66" height="6.5" fill="#004c3d"/>
<line x1="615.5" y1="247.35" x2="617.7" y2="247.35" stroke="#555555" stroke-width="0.65"/>
<text x="612.4" y="250.45" font-size="8.8" text-anchor="end" textLength="25.3" lengthAdjust="spacing">CLMB</text>
<rect x="617.7" y="258.09" width="85.01" height="6.5" fill="#c5e9e2"/>
<rect x="617.7" y="258.09" width="75.25" height="6.5" fill="#80cfc0"/>
<rect x="617.7" y="258.09" width="62.71" height="6.5" fill="#5aa89c"/>
<rect x="617.7" y="258.09" width="37.63" height="6.5" fill="#00695c"/>
<rect x="617.7" y="258.09" width="20.9" height="6.5" fill="#004c3d"/>
<line x1="615.5" y1="261.34" x2="617.7" y2="261.34" stroke="#555555" stroke-width="0.65"/>
<text x="612.4" y="264.44" font-size="8.8" text-anchor="end" textLength="59.6" lengthAdjust="spacing">MetaDecoder</text>
<rect x="617.7" y="272.08" width="90.58" height="6.5" fill="#c5e9e2"/>
<rect x="617.7" y="272.08" width="80.83" height="6.5" fill="#80cfc0"/>
<rect x="617.7" y="272.08" width="73.86" height="6.5" fill="#5aa89c"/>
<rect x="617.7" y="272.08" width="57.14" height="6.5" fill="#00695c"/>
<rect x="617.7" y="272.08" width="25.08" height="6.5" fill="#004c3d"/>
<line x1="615.5" y1="275.33" x2="617.7" y2="275.33" stroke="#555555" stroke-width="0.65"/>
<text x="612.4" y="278.43" font-size="8.8" text-anchor="end" textLength="41.5" lengthAdjust="spacing">SemiBin1</text>
<rect x="617.7" y="286.07" width="90.58" height="6.5" fill="#c5e9e2"/>
<rect x="617.7" y="286.07" width="79.44" height="6.5" fill="#80cfc0"/>
<rect x="617.7" y="286.07" width="72.47" height="6.5" fill="#5aa89c"/>
<rect x="617.7" y="286.07" width="54.35" height="6.5" fill="#00695c"/>
<rect x="617.7" y="286.07" width="25.08" height="6.5" fill="#004c3d"/>
<line x1="615.5" y1="289.32" x2="617.7" y2="289.32" stroke="#555555" stroke-width="0.65"/>
<text x="612.4" y="292.42" font-size="8.8" text-anchor="end" textLength="41.9" lengthAdjust="spacing">SemiBin2</text>
<rect x="617.7" y="300.06" width="124.03" height="6.5" fill="#c5e9e2"/>
<rect x="617.7" y="300.06" width="108.7" height="6.5" fill="#80cfc0"/>
<rect x="617.7" y="300.06" width="89.19" height="6.5" fill="#5aa89c"/>
<rect x="617.7" y="300.06" width="69.68" height="6.5" fill="#00695c"/>
<rect x="617.7" y="300.06" width="45.99" height="6.5" fill="#004c3d"/>
<line x1="615.5" y1="303.31" x2="617.7" y2="303.31" stroke="#555555" stroke-width="0.65"/>
<text x="612.4" y="306.41" font-size="8.8" text-anchor="end" textLength="40.4" lengthAdjust="spacing">COMEBin</text>
<rect x="617.7" y="184.4" width="174.2" height="125.9" fill="none" stroke="#555555" stroke-width="0.65"/>
<line x1="617.7" y1="310.3" x2="617.7" y2="312.5" stroke="#555555" stroke-width="0.65"/>
<text x="617.3" y="321.5" font-size="8.9" text-anchor="middle" textLength="5.3" lengthAdjust="spacing">0</text>
<line x1="652.54" y1="310.3" x2="652.54" y2="312.5" stroke="#555555" stroke-width="0.65"/>
<text x="652.14" y="321.5" font-size="8.9" text-anchor="middle" textLength="10.6" lengthAdjust="spacing">25</text>
<line x1="687.38" y1="310.3" x2="687.38" y2="312.5" stroke="#555555" stroke-width="0.65"/>
<text x="686.98" y="321.5" font-size="8.9" text-anchor="middle" textLength="10.6" lengthAdjust="spacing">50</text>
<line x1="722.22" y1="310.3" x2="722.22" y2="312.5" stroke="#555555" stroke-width="0.65"/>
<text x="721.82" y="321.5" font-size="8.9" text-anchor="middle" textLength="10.6" lengthAdjust="spacing">75</text>
<line x1="757.06" y1="310.3" x2="757.06" y2="312.5" stroke="#555555" stroke-width="0.65"/>
<text x="756.66" y="321.5" font-size="8.9" text-anchor="middle" textLength="15.9" lengthAdjust="spacing">100</text>
<line x1="791.9" y1="310.3" x2="791.9" y2="312.5" stroke="#555555" stroke-width="0.65"/>
<text x="791.5" y="321.5" font-size="8.9" text-anchor="middle" textLength="15.9" lengthAdjust="spacing">125</text>
<text x="704.3" y="333.2" font-size="8.8" text-anchor="middle" textLength="126" lengthAdjust="spacing" xml:space="preserve"># Bins(&lt;  5% contamination)</text>
<text x="704.8" y="181" font-size="9" text-anchor="middle" textLength="95.6" lengthAdjust="spacing">MetaHIT (10-sample)</text>
<text x="785.6" y="195.2" font-size="6.3" text-anchor="end" textLength="41.4" lengthAdjust="spacing">completeness</text>
<rect x="750.4" y="199.8" width="12.3" height="3.8" fill="#004c3d"/>
<text x="767.5" y="203.8" font-size="6.1" textLength="12.5" lengthAdjust="spacing" xml:space="preserve">> 90</text>
<rect x="750.4" y="208.65" width="12.3" height="3.8" fill="#00695c"/>
<text x="767.5" y="212.65" font-size="6.1" textLength="12.5" lengthAdjust="spacing" xml:space="preserve">> 80</text>
<rect x="750.4" y="217.5" width="12.3" height="3.8" fill="#5aa89c"/>
<text x="767.5" y="221.5" font-size="6.1" textLength="12.5" lengthAdjust="spacing" xml:space="preserve">> 70</text>
<rect x="750.4" y="226.35" width="12.3" height="3.8" fill="#80cfc0"/>
<text x="767.5" y="230.35" font-size="6.1" textLength="12.5" lengthAdjust="spacing" xml:space="preserve">> 60</text>
<rect x="750.4" y="235.2" width="12.3" height="3.8" fill="#c5e9e2"/>
<text x="767.5" y="239.2" font-size="6.1" textLength="12.5" lengthAdjust="spacing" xml:space="preserve">> 50</text>
<text x="0.4" y="389.6" font-size="22" font-weight="bold" fill="#000">b</text>
<rect x="177.48" y="478.24" width="10.56" height="15.55" fill="#e7700d"/>
<rect x="187.74" y="460.8" width="10.26" height="32.99" fill="#1b9e77"/>
<rect x="177.48" y="493.19" width="20.51" height="54.81" fill="#7570b3"/>
<line x1="187.74" y1="548" x2="187.74" y2="550.4" stroke="#555555" stroke-width="0.8"/>
<text x="187.74" y="566.8" font-size="8.7" text-anchor="middle" transform="rotate(-30 187.74 564.2)">Species</text>
<rect x="211.67" y="413.47" width="10.56" height="23.02" fill="#e7700d"/>
<rect x="221.93" y="376.1" width="10.26" height="60.39" fill="#1b9e77"/>
<rect x="211.67" y="435.89" width="20.51" height="112.11" fill="#7570b3"/>
<line x1="221.93" y1="548" x2="221.93" y2="550.4" stroke="#555555" stroke-width="0.8"/>
<text x="221.93" y="566.8" font-size="8.7" text-anchor="middle" transform="rotate(-30 221.93 564.2)">Genus</text>
<rect x="245.86" y="460.8" width="10.56" height="5.58" fill="#e7700d"/>
<rect x="256.11" y="443.36" width="10.26" height="23.02" fill="#1b9e77"/>
<rect x="245.86" y="465.78" width="20.51" height="82.22" fill="#7570b3"/>
<line x1="256.11" y1="548" x2="256.11" y2="550.4" stroke="#555555" stroke-width="0.8"/>
<text x="256.11" y="566.8" font-size="8.7" text-anchor="middle" transform="rotate(-30 256.11 564.2)">Family</text>
<rect x="290.3" y="480.73" width="10.26" height="8.07" fill="#1b9e77"/>
<rect x="280.04" y="488.21" width="20.51" height="59.79" fill="#7570b3"/>
<line x1="290.3" y1="548" x2="290.3" y2="550.4" stroke="#555555" stroke-width="0.8"/>
<text x="290.3" y="566.8" font-size="8.7" text-anchor="middle" transform="rotate(-30 290.3 564.2)">Order</text>
<rect x="324.49" y="520.59" width="10.26" height="3.09" fill="#1b9e77"/>
<rect x="314.23" y="523.09" width="20.51" height="24.91" fill="#7570b3"/>
<line x1="324.49" y1="548" x2="324.49" y2="550.4" stroke="#555555" stroke-width="0.8"/>
<text x="324.49" y="566.8" font-size="8.7" text-anchor="middle" transform="rotate(-30 324.49 564.2)">Class</text>
<rect x="348.42" y="528.07" width="20.51" height="19.93" fill="#7570b3"/>
<line x1="358.67" y1="548" x2="358.67" y2="550.4" stroke="#555555" stroke-width="0.8"/>
<text x="358.67" y="566.8" font-size="8.7" text-anchor="middle" transform="rotate(-30 358.67 564.2)">Phylum</text>
<rect x="382.61" y="545.51" width="20.51" height="2.49" fill="#7570b3"/>
<line x1="392.86" y1="548" x2="392.86" y2="550.4" stroke="#555555" stroke-width="0.8"/>
<text x="392.86" y="566.8" font-size="8.7" text-anchor="middle" transform="rotate(-30 392.86 564.2)">Domain</text>
<rect x="166.2" y="367.5" width="248.2" height="180.5" fill="none" stroke="#555555" stroke-width="0.8"/>
<line x1="163.6" y1="548" x2="166.2" y2="548" stroke="#555555" stroke-width="0.8"/>
<text x="159.4" y="551.1" font-size="8.2" text-anchor="end" textLength="5" lengthAdjust="spacing">0</text>
<line x1="163.6" y1="523.09" x2="166.2" y2="523.09" stroke="#555555" stroke-width="0.8"/>
<text x="159.4" y="526.19" font-size="8.2" text-anchor="end" textLength="10" lengthAdjust="spacing">10</text>
<line x1="163.6" y1="498.17" x2="166.2" y2="498.17" stroke="#555555" stroke-width="0.8"/>
<text x="159.4" y="501.27" font-size="8.2" text-anchor="end" textLength="10" lengthAdjust="spacing">20</text>
<line x1="163.6" y1="473.26" x2="166.2" y2="473.26" stroke="#555555" stroke-width="0.8"/>
<text x="159.4" y="476.36" font-size="8.2" text-anchor="end" textLength="10" lengthAdjust="spacing">30</text>
<line x1="163.6" y1="448.35" x2="166.2" y2="448.35" stroke="#555555" stroke-width="0.8"/>
<text x="159.4" y="451.45" font-size="8.2" text-anchor="end" textLength="10" lengthAdjust="spacing">40</text>
<line x1="163.6" y1="423.43" x2="166.2" y2="423.43" stroke="#555555" stroke-width="0.8"/>
<text x="159.4" y="426.53" font-size="8.2" text-anchor="end" textLength="10" lengthAdjust="spacing">50</text>
<line x1="163.6" y1="398.52" x2="166.2" y2="398.52" stroke="#555555" stroke-width="0.8"/>
<text x="159.4" y="401.62" font-size="8.2" text-anchor="end" textLength="10" lengthAdjust="spacing">60</text>
<line x1="163.6" y1="373.6" x2="166.2" y2="373.6" stroke="#555555" stroke-width="0.8"/>
<text x="159.4" y="376.7" font-size="8.2" text-anchor="end" textLength="10" lengthAdjust="spacing">70</text>
<text x="145.5" y="457.75" font-size="8.2" text-anchor="middle" textLength="62.7" lengthAdjust="spacing" transform="rotate(-90 145.5 457.75)">Number of taxa</text>
<text x="290.3" y="363" font-size="7.8" text-anchor="middle" textLength="56.2" lengthAdjust="spacing">Water Group2</text>
<rect x="342.4" y="374.3" width="13" height="4.1" fill="#e7700d"/>
<text x="360.7" y="378.6" font-size="6.3" textLength="47.8" lengthAdjust="spacing">MetaBAT2 only</text>
<rect x="342.4" y="383.7" width="13" height="4.1" fill="#1b9e77"/>
<text x="360.7" y="388" font-size="6.3" textLength="44.8" lengthAdjust="spacing">COMEBin only</text>
<rect x="342.4" y="393.1" width="13" height="4.1" fill="#7570b3"/>
<text x="360.7" y="397.4" font-size="6.3" textLength="14.8" lengthAdjust="spacing">Both</text>
<rect x="461.78" y="485.87" width="10.56" height="15.1" fill="#e7700d"/>
<rect x="472.04" y="469.3" width="10.26" height="31.67" fill="#1b9e77"/>
<rect x="461.78" y="500.36" width="20.51" height="47.64" fill="#7570b3"/>
<line x1="472.04" y1="548" x2="472.04" y2="550.4" stroke="#555555" stroke-width="0.8"/>
<text x="472.04" y="566.8" font-size="8.7" text-anchor="middle" transform="rotate(-30 472.04 564.2)">Species</text>
<rect x="495.97" y="409.23" width="10.56" height="27.52" fill="#e7700d"/>
<rect x="506.23" y="376.1" width="10.26" height="60.66" fill="#1b9e77"/>
<rect x="495.97" y="436.16" width="20.51" height="111.84" fill="#7570b3"/>
<line x1="506.23" y1="548" x2="506.23" y2="550.4" stroke="#555555" stroke-width="0.8"/>
<text x="506.23" y="566.8" font-size="8.7" text-anchor="middle" transform="rotate(-30 506.23 564.2)">Genus</text>
<rect x="530.16" y="446.51" width="10.56" height="13.03" fill="#e7700d"/>
<rect x="540.41" y="425.8" width="10.26" height="33.74" fill="#1b9e77"/>
<rect x="530.16" y="458.94" width="20.51" height="89.06" fill="#7570b3"/>
<line x1="540.41" y1="548" x2="540.41" y2="550.4" stroke="#555555" stroke-width="0.8"/>
<text x="540.41" y="566.8" font-size="8.7" text-anchor="middle" transform="rotate(-30 540.41 564.2)">Family</text>
<rect x="564.34" y="475.51" width="10.56" height="4.74" fill="#e7700d"/>
<rect x="574.6" y="467.23" width="10.26" height="13.03" fill="#1b9e77"/>
<rect x="564.34" y="479.65" width="20.51" height="68.35" fill="#7570b3"/>
<line x1="574.6" y1="548" x2="574.6" y2="550.4" stroke="#555555" stroke-width="0.8"/>
<text x="574.6" y="566.8" font-size="8.7" text-anchor="middle" transform="rotate(-30 574.6 564.2)">Order</text>
<rect x="598.53" y="516.93" width="10.56" height="2.67" fill="#e7700d"/>
<rect x="608.79" y="514.86" width="10.26" height="4.74" fill="#1b9e77"/>
<rect x="598.53" y="519" width="20.51" height="29" fill="#7570b3"/>
<line x1="608.79" y1="548" x2="608.79" y2="550.4" stroke="#555555" stroke-width="0.8"/>
<text x="608.79" y="566.8" font-size="8.7" text-anchor="middle" transform="rotate(-30 608.79 564.2)">Class</text>
<rect x="632.72" y="523.15" width="10.56" height="2.67" fill="#e7700d"/>
<rect x="632.72" y="525.22" width="20.51" height="22.78" fill="#7570b3"/>
<line x1="642.97" y1="548" x2="642.97" y2="550.4" stroke="#555555" stroke-width="0.8"/>
<text x="642.97" y="566.8" font-size="8.7" text-anchor="middle" transform="rotate(-30 642.97 564.2)">Phylum</text>
<rect x="666.91" y="545.93" width="20.51" height="2.07" fill="#7570b3"/>
<line x1="677.16" y1="548" x2="677.16" y2="550.4" stroke="#555555" stroke-width="0.8"/>
<text x="677.16" y="566.8" font-size="8.7" text-anchor="middle" transform="rotate(-30 677.16 564.2)">Domain</text>
<rect x="450.5" y="367.5" width="248.2" height="180.5" fill="none" stroke="#555555" stroke-width="0.8"/>
<line x1="447.9" y1="548" x2="450.5" y2="548" stroke="#555555" stroke-width="0.8"/>
<text x="443.7" y="551.1" font-size="8.2" text-anchor="end" textLength="5" lengthAdjust="spacing">0</text>
<line x1="447.9" y1="527.29" x2="450.5" y2="527.29" stroke="#555555" stroke-width="0.8"/>
<text x="443.7" y="530.39" font-size="8.2" text-anchor="end" textLength="10" lengthAdjust="spacing">10</text>
<line x1="447.9" y1="506.58" x2="450.5" y2="506.58" stroke="#555555" stroke-width="0.8"/>
<text x="443.7" y="509.68" font-size="8.2" text-anchor="end" textLength="10" lengthAdjust="spacing">20</text>
<line x1="447.9" y1="485.87" x2="450.5" y2="485.87" stroke="#555555" stroke-width="0.8"/>
<text x="443.7" y="488.97" font-size="8.2" text-anchor="end" textLength="10" lengthAdjust="spacing">30</text>
<line x1="447.9" y1="465.15" x2="450.5" y2="465.15" stroke="#555555" stroke-width="0.8"/>
<text x="443.7" y="468.25" font-size="8.2" text-anchor="end" textLength="10" lengthAdjust="spacing">40</text>
<line x1="447.9" y1="444.44" x2="450.5" y2="444.44" stroke="#555555" stroke-width="0.8"/>
<text x="443.7" y="447.54" font-size="8.2" text-anchor="end" textLength="10" lengthAdjust="spacing">50</text>
<line x1="447.9" y1="423.73" x2="450.5" y2="423.73" stroke="#555555" stroke-width="0.8"/>
<text x="443.7" y="426.83" font-size="8.2" text-anchor="end" textLength="10" lengthAdjust="spacing">60</text>
<line x1="447.9" y1="403.02" x2="450.5" y2="403.02" stroke="#555555" stroke-width="0.8"/>
<text x="443.7" y="406.12" font-size="8.2" text-anchor="end" textLength="10" lengthAdjust="spacing">70</text>
<line x1="447.9" y1="382.31" x2="450.5" y2="382.31" stroke="#555555" stroke-width="0.8"/>
<text x="443.7" y="385.41" font-size="8.2" text-anchor="end" textLength="10" lengthAdjust="spacing">80</text>
<text x="429.8" y="457.75" font-size="8.2" text-anchor="middle" textLength="62.7" lengthAdjust="spacing" transform="rotate(-90 429.8 457.75)">Number of taxa</text>
<text x="574.6" y="363" font-size="7.8" text-anchor="middle" textLength="56.1" lengthAdjust="spacing">Water Group3</text>
<rect x="177.48" y="622" width="10.56" height="31.02" fill="#e7700d"/>
<rect x="187.74" y="605.1" width="10.26" height="47.92" fill="#1b9e77"/>
<rect x="177.48" y="652.42" width="20.51" height="124.58" fill="#7570b3"/>
<line x1="187.74" y1="777" x2="187.74" y2="779.4" stroke="#555555" stroke-width="0.8"/>
<text x="187.74" y="795.8" font-size="8.7" text-anchor="middle" transform="rotate(-30 187.74 793.2)">Species</text>
<rect x="211.67" y="676.08" width="10.56" height="13.64" fill="#e7700d"/>
<rect x="221.93" y="665.94" width="10.26" height="23.78" fill="#1b9e77"/>
<rect x="211.67" y="689.12" width="20.51" height="87.88" fill="#7570b3"/>
<line x1="221.93" y1="777" x2="221.93" y2="779.4" stroke="#555555" stroke-width="0.8"/>
<text x="221.93" y="795.8" font-size="8.7" text-anchor="middle" transform="rotate(-30 221.93 793.2)">Genus</text>
<rect x="245.86" y="748.03" width="10.56" height="1.57" fill="#e7700d"/>
<rect x="256.11" y="745.61" width="10.26" height="3.98" fill="#1b9e77"/>
<rect x="245.86" y="748.99" width="20.51" height="28.01" fill="#7570b3"/>
<line x1="256.11" y1="777" x2="256.11" y2="779.4" stroke="#555555" stroke-width="0.8"/>
<text x="256.11" y="795.8" font-size="8.7" text-anchor="middle" transform="rotate(-30 256.11 793.2)">Family</text>
<rect x="280.04" y="762.03" width="10.56" height="1.08" fill="#e7700d"/>
<rect x="290.3" y="761.55" width="10.26" height="1.57" fill="#1b9e77"/>
<rect x="280.04" y="762.51" width="20.51" height="14.49" fill="#7570b3"/>
<line x1="290.3" y1="777" x2="290.3" y2="779.4" stroke="#555555" stroke-width="0.8"/>
<text x="290.3" y="795.8" font-size="8.7" text-anchor="middle" transform="rotate(-30 290.3 793.2)">Order</text>
<rect x="314.23" y="768.79" width="10.56" height="1.08" fill="#e7700d"/>
<rect x="324.49" y="768.79" width="10.26" height="1.08" fill="#1b9e77"/>
<rect x="314.23" y="769.27" width="20.51" height="7.73" fill="#7570b3"/>
<line x1="324.49" y1="777" x2="324.49" y2="779.4" stroke="#555555" stroke-width="0.8"/>
<text x="324.49" y="795.8" font-size="8.7" text-anchor="middle" transform="rotate(-30 324.49 793.2)">Class</text>
<rect x="348.42" y="770.48" width="10.56" height="0.84" fill="#e7700d"/>
<rect x="358.67" y="770" width="10.26" height="1.32" fill="#1b9e77"/>
<rect x="348.42" y="770.72" width="20.51" height="6.28" fill="#7570b3"/>
<line x1="358.67" y1="777" x2="358.67" y2="779.4" stroke="#555555" stroke-width="0.8"/>
<text x="358.67" y="795.8" font-size="8.7" text-anchor="middle" transform="rotate(-30 358.67 793.2)">Phylum</text>
<rect x="392.86" y="776.03" width="10.26" height="1.08" fill="#1b9e77"/>
<rect x="382.61" y="776.52" width="20.51" height="0.48" fill="#7570b3"/>
<line x1="392.86" y1="777" x2="392.86" y2="779.4" stroke="#555555" stroke-width="0.8"/>
<text x="392.86" y="795.8" font-size="8.7" text-anchor="middle" transform="rotate(-30 392.86 793.2)">Domain</text>
<rect x="166.2" y="596.5" width="248.2" height="180.5" fill="none" stroke="#555555" stroke-width="0.8"/>
<line x1="163.6" y1="777" x2="166.2" y2="777" stroke="#555555" stroke-width="0.8"/>
<text x="159.4" y="780.1" font-size="8.2" text-anchor="end" textLength="5" lengthAdjust="spacing">0</text>
<line x1="163.6" y1="752.86" x2="166.2" y2="752.86" stroke="#555555" stroke-width="0.8"/>
<text x="159.4" y="755.96" font-size="8.2" text-anchor="end" textLength="10" lengthAdjust="spacing">50</text>
<line x1="163.6" y1="728.71" x2="166.2" y2="728.71" stroke="#555555" stroke-width="0.8"/>
<text x="159.4" y="731.81" font-size="8.2" text-anchor="end" textLength="15" lengthAdjust="spacing">100</text>
<line x1="163.6" y1="704.57" x2="166.2" y2="704.57" stroke="#555555" stroke-width="0.8"/>
<text x="159.4" y="707.67" font-size="8.2" text-anchor="end" textLength="15" lengthAdjust="spacing">150</text>
<line x1="163.6" y1="680.42" x2="166.2" y2="680.42" stroke="#555555" stroke-width="0.8"/>
<text x="159.4" y="683.52" font-size="8.2" text-anchor="end" textLength="15" lengthAdjust="spacing">200</text>
<line x1="163.6" y1="656.28" x2="166.2" y2="656.28" stroke="#555555" stroke-width="0.8"/>
<text x="159.4" y="659.38" font-size="8.2" text-anchor="end" textLength="15" lengthAdjust="spacing">250</text>
<line x1="163.6" y1="632.14" x2="166.2" y2="632.14" stroke="#555555" stroke-width="0.8"/>
<text x="159.4" y="635.24" font-size="8.2" text-anchor="end" textLength="15" lengthAdjust="spacing">300</text>
<line x1="163.6" y1="607.99" x2="166.2" y2="607.99" stroke="#555555" stroke-width="0.8"/>
<text x="159.4" y="611.09" font-size="8.2" text-anchor="end" textLength="15" lengthAdjust="spacing">350</text>
<text x="140.5" y="686.75" font-size="8.2" text-anchor="middle" textLength="62.7" lengthAdjust="spacing" transform="rotate(-90 140.5 686.75)">Number of taxa</text>
<text x="290.3" y="592" font-size="7.8" text-anchor="middle" textLength="33.6" lengthAdjust="spacing">MetaHIT</text>
<rect x="461.78" y="628.27" width="10.56" height="21.85" fill="#e7700d"/>
<rect x="472.04" y="605.1" width="10.26" height="45.02" fill="#1b9e77"/>
<rect x="461.78" y="649.52" width="20.51" height="127.48" fill="#7570b3"/>
<line x1="472.04" y1="777" x2="472.04" y2="779.4" stroke="#555555" stroke-width="0.8"/>
<text x="472.04" y="795.8" font-size="8.7" text-anchor="middle" transform="rotate(-30 472.04 793.2)">Species</text>
<rect x="495.97" y="672.7" width="10.56" height="8.33" fill="#e7700d"/>
<rect x="506.23" y="659.18" width="10.26" height="21.85" fill="#1b9e77"/>
<rect x="495.97" y="680.42" width="20.51" height="96.58" fill="#7570b3"/>
<line x1="506.23" y1="777" x2="506.23" y2="779.4" stroke="#555555" stroke-width="0.8"/>
<text x="506.23" y="795.8" font-size="8.7" text-anchor="middle" transform="rotate(-30 506.23 793.2)">Genus</text>
<rect x="540.41" y="724.85" width="10.26" height="6.39" fill="#1b9e77"/>
<rect x="530.16" y="730.64" width="20.51" height="46.36" fill="#7570b3"/>
<line x1="540.41" y1="777" x2="540.41" y2="779.4" stroke="#555555" stroke-width="0.8"/>
<text x="540.41" y="795.8" font-size="8.7" text-anchor="middle" transform="rotate(-30 540.41 793.2)">Family</text>
<rect x="574.6" y="746.1" width="10.26" height="4.46" fill="#1b9e77"/>
<rect x="564.34" y="749.96" width="20.51" height="27.04" fill="#7570b3"/>
<line x1="574.6" y1="777" x2="574.6" y2="779.4" stroke="#555555" stroke-width="0.8"/>
<text x="574.6" y="795.8" font-size="8.7" text-anchor="middle" transform="rotate(-30 574.6 793.2)">Order</text>
<rect x="598.53" y="761.55" width="20.51" height="15.45" fill="#7570b3"/>
<line x1="608.79" y1="777" x2="608.79" y2="779.4" stroke="#555555" stroke-width="0.8"/>
<text x="608.79" y="795.8" font-size="8.7" text-anchor="middle" transform="rotate(-30 608.79 793.2)">Class</text>
<rect x="632.72" y="763.48" width="20.51" height="13.52" fill="#7570b3"/>
<line x1="642.97" y1="777" x2="642.97" y2="779.4" stroke="#555555" stroke-width="0.8"/>
<text x="642.97" y="795.8" font-size="8.7" text-anchor="middle" transform="rotate(-30 642.97 793.2)">Phylum</text>
<rect x="666.91" y="773.14" width="20.51" height="3.86" fill="#7570b3"/>
<line x1="677.16" y1="777" x2="677.16" y2="779.4" stroke="#555555" stroke-width="0.8"/>
<text x="677.16" y="795.8" font-size="8.7" text-anchor="middle" transform="rotate(-30 677.16 793.2)">Domain</text>
<rect x="450.5" y="596.5" width="248.2" height="180.5" fill="none" stroke="#555555" stroke-width="0.8"/>
<line x1="447.9" y1="777" x2="450.5" y2="777" stroke="#555555" stroke-width="0.8"/>
<text x="443.7" y="780.1" font-size="8.2" text-anchor="end" textLength="5" lengthAdjust="spacing">0</text>
<line x1="447.9" y1="738.37" x2="450.5" y2="738.37" stroke="#555555" stroke-width="0.8"/>
<text x="443.7" y="741.47" font-size="8.2" text-anchor="end" textLength="10" lengthAdjust="spacing">20</text>
<line x1="447.9" y1="699.74" x2="450.5" y2="699.74" stroke="#555555" stroke-width="0.8"/>
<text x="443.7" y="702.84" font-size="8.2" text-anchor="end" textLength="10" lengthAdjust="spacing">40</text>
<line x1="447.9" y1="661.11" x2="450.5" y2="661.11" stroke="#555555" stroke-width="0.8"/>
<text x="443.7" y="664.21" font-size="8.2" text-anchor="end" textLength="10" lengthAdjust="spacing">60</text>
<line x1="447.9" y1="622.48" x2="450.5" y2="622.48" stroke="#555555" stroke-width="0.8"/>
<text x="443.7" y="625.58" font-size="8.2" text-anchor="end" textLength="10" lengthAdjust="spacing">80</text>
<text x="429.8" y="686.75" font-size="8.2" text-anchor="middle" textLength="62.7" lengthAdjust="spacing" transform="rotate(-90 429.8 686.75)">Number of taxa</text>
<text x="574.6" y="592" font-size="7.8" text-anchor="middle" textLength="85.2" lengthAdjust="spacing">MetaHIT (10-sample)</text>
</g>
</svg>
</body></html>
